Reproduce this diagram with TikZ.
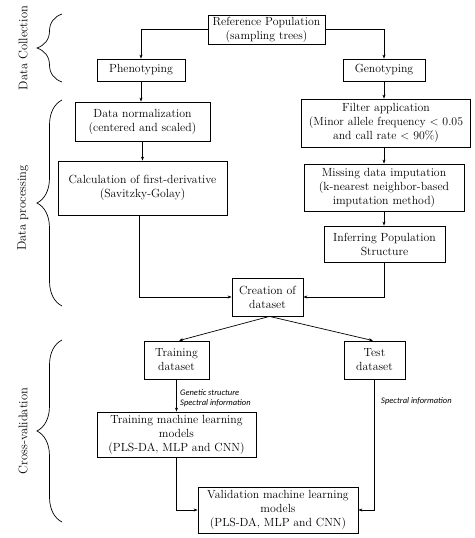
\documentclass[tikz,border=0pt]{standalone}
\usepackage{fontspec}
\newfontfamily\labfont{Carlito}
\usetikzlibrary{arrows.meta,decorations.pathreplacing,calc}
\tikzset{
  box/.style={draw, line width=0.8pt, align=center, inner sep=0pt, font=\fontsize{11.8}{14}\selectfont},
  arr/.style={line width=0.7pt, -{Stealth[length=4pt,width=3pt]}},
  lab/.style={font=\labfont\itshape\fontsize{8.5}{10}\selectfont, anchor=west, inner sep=0pt},
  brc/.style={decorate, decoration={brace, amplitude=25pt}, line width=0.7pt},
  side/.style={rotate=90, font=\fontsize{12.5}{14}\selectfont, inner sep=0pt}
}
\begin{document}
\begin{tikzpicture}[x=1pt,y=-1pt]
\useasboundingbox (0,0) rectangle (474,538);
\fill[white] (0,0) rectangle (474,538);

\node[box, minimum width=117pt, minimum height=29pt] (ref) at (266.5,29.5) {Reference Population\\(sampling trees)};
\node[box, minimum width=88pt, minimum height=22pt] (phen) at (141,70) {Phenotyping};
\node[box, minimum width=82pt, minimum height=22pt] (geno) at (384,70) {Genotyping};
\node[box, minimum width=135pt, minimum height=39pt] (norm) at (142.5,121.5) {Data normalization\\(centered and scaled)};
\node[box, minimum width=169pt, minimum height=48pt] (filt) at (386,123) {Filter application\\(Minor allele frequency {\textless} 0.05\\and call rate {\textless} 90\%)};
\node[box, minimum width=169pt, minimum height=54pt] (calc) at (142.5,188) {Calculation of first-derivative\\(Savitzky-Golay)};
\node[box, minimum width=160pt, minimum height=47pt] (miss) at (384,187.5) {Missing data imputation\\(k-nearest neighbor-based\\imputation method)};
\node[box, minimum width=121pt, minimum height=36pt] (infer) at (384.5,244) {Inferring Population\\Structure};
\node[box, minimum width=71pt, minimum height=38pt] (creat) at (267.5,297) {Creation of\\dataset};
\node[box, minimum width=65pt, minimum height=38pt] (train) at (176.5,360) {Training\\dataset};
\node[box, minimum width=61pt, minimum height=38pt] (test) at (374.5,360) {Test\\dataset};
\node[box, minimum width=159pt, minimum height=45pt] (tml) at (176.5,434.5) {Training machine learning\\models\\(PLS-DA, MLP and CNN)};
\node[box, minimum width=160pt, minimum height=46pt] (vml) at (278,510) {Validation machine learning\\models\\(PLS-DA, MLP and CNN)};

\draw[arr] (ref.west) -| (phen.north);
\draw[arr] (ref.east) -| (geno.north);
\draw[arr] (phen.south) -- (phen.south |- norm.north);
\draw[arr] (geno.south) -- (geno.south |- filt.north);
\draw[arr] (norm.south) -- (norm.south |- calc.north);
\draw[arr] (filt.south -| geno.south) -- (geno.south |- miss.north);
\draw[arr] (miss.south -| geno.south) -- (geno.south |- infer.north);
\draw[arr] ($(calc.south)+(-3.5,0)$) |- (creat.west);
\draw[arr] (infer.south) |- (creat.east);
\draw[arr] ($(creat.south)+(2,0)$) -- ($(train.north)+(2.5,0)$);
\draw[arr] ($(creat.south)+(2,0)$) -- ($(test.north)+(-1.5,0)$);
\draw[arr] (train.south) -- (train.south |- tml.north);
\draw[arr] (tml.south) |- (vml.west);
\draw[arr] (test.south) |- (vml.east);

\node[lab] (l1) at (180,393) {Genetic structure};
\node[lab] (l2) at (180,403.5) {Spectral information};
\node[lab] (l3) at (381,401) {Spectral information};

\coordinate (b1t) at (62,14);
\coordinate (b1b) at (62,82);
\coordinate (b2t) at (62,100);
\coordinate (b2b) at (62,306);
\coordinate (b3t) at (62,340);
\coordinate (b3b) at (62,522);
\draw[brc] (b1b) -- (b1t);
\draw[brc] (b2b) -- (b2t);
\draw[brc] (b3b) -- (b3t);

\node[side] (s1) at (23,48) {Data Collection};
\node[side] (s2) at (23,208) {Data processing};
\node[side] (s3) at (23,431) {Cross-validation};
\end{tikzpicture}
\end{document}
